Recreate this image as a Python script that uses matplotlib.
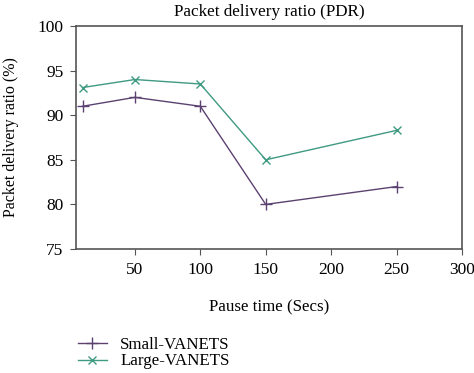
import matplotlib
matplotlib.use("Agg")
import matplotlib.pyplot as plt

# data
pause_time = [10, 50, 100, 150, 250]
small_vanets = [91.0, 92.0, 91.0, 80.0, 82.0]
large_vanets = [93.1, 94.0, 93.5, 85.0, 88.3]
x_ticks = [50, 100, 150, 200, 250, 300]
y_ticks = [75, 80, 85, 90, 95, 100]

plt.rcParams["font.family"] = ["Liberation Serif", "DejaVu Serif"]
plt.rcParams["font.size"] = 12

fig = plt.figure(figsize=(4.74, 3.73), dpi=100)
ax = fig.add_axes([76 / 474, 1 - 249 / 373, (462 - 76) / 474, (249 - 26) / 373])

ax.plot(pause_time, small_vanets, color="#5b4270", lw=1.0, marker="+", ms=8,
        mew=1.0, label="Small-VANETS")
ax.plot(pause_time, large_vanets, color="#3f9a82", lw=1.0, marker="x", ms=6,
        mew=1.0, label="Large-VANETS")

ax.set_xlim(5, 300)
ax.set_ylim(75, 100)
ax.set_xticks(x_ticks)
ax.set_yticks(y_ticks)
for s in ax.spines.values():
    s.set_color("#555555")
    s.set_linewidth(1.2)
ax.tick_params(direction="out", length=4, color="#555555", labelsize=12.5, pad=5)

ax.set_title("Packet delivery ratio (PDR)", fontsize=12.3, pad=7)
ax.set_xlabel("Pause time (Secs)", fontsize=12.2, labelpad=16)
ax.set_ylabel("Packet delivery ratio (%)", fontsize=11.5, labelpad=13)

ax.legend(loc="upper left", bbox_to_anchor=(0.005, -0.393), frameon=False,
          fontsize=12.2, handlelength=1.7, handletextpad=0.8, labelspacing=0.05,
          borderaxespad=0, borderpad=0)

fig.savefig("out.png", dpi=100)
